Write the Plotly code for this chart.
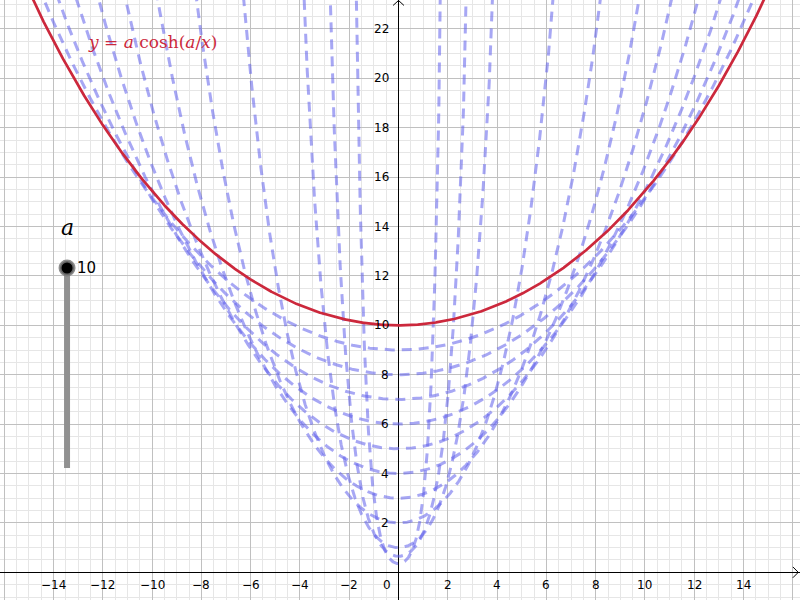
import numpy as np
import plotly.graph_objects as go

# parameter values of the dashed family y = a*cosh(x/a)
a_family = [0.35, 0.65, 1, 2, 3, 4, 5, 6, 7, 8, 9]
a_slider = 10
x_ticks = [-14, -12, -10, -8, -6, -4, -2, 2, 4, 6, 8, 10, 12, 14]
y_ticks = [2, 4, 6, 8, 10, 12, 14, 16, 18, 20, 22]
slider_min, slider_max = 0, 10

X0, X1 = -16.17, 16.29
Y0, Y1 = -1.12, 23.17

def catenary(a):
    x = np.linspace(-16.5, 16.5, 3000)
    y = a * np.cosh(np.clip(x / a, -60, 60))
    y = np.where(y > 40, np.nan, y)
    return x, y

fig = go.Figure()

# slider track
sx = -13.45
sy_top, sy_bot = 12.32, 4.22
fig.add_trace(go.Scatter(x=[sx, sx], y=[sy_bot, sy_top], mode="lines", hoverinfo="skip",
                         line=dict(color="rgb(145,145,145)", width=6)))

for a in a_family:
    x, y = catenary(a)
    fig.add_trace(go.Scatter(x=x, y=y, mode="lines", hoverinfo="skip",
                             line=dict(color="rgba(95,95,235,0.55)", width=3, dash="10px,7px")))
x, y = catenary(a_slider)
fig.add_trace(go.Scatter(x=x, y=y, mode="lines", hoverinfo="skip",
                         line=dict(color="rgb(204,40,60)", width=2.7)))

knob_y = sy_bot + (sy_top - sy_bot) * (a_slider - slider_min) / (slider_max - slider_min)
fig.add_trace(go.Scatter(x=[sx], y=[knob_y], mode="markers", hoverinfo="skip",
                         marker=dict(size=14, color="black", line=dict(color="rgba(120,120,120,0.85)", width=3))))
fig.add_annotation(x=sx + 0.32, y=knob_y, text=str(a_slider), showarrow=False, xanchor="left",
                   font=dict(family="DejaVu Sans", size=15, color="black"))
fig.add_annotation(x=sx, y=13.95, text="<i>a</i>", showarrow=False,
                   font=dict(family="DejaVu Serif", size=22, color="black"))

# formula label
fig.add_annotation(x=-12.7, y=21.45, text="<i>y</i> = <i>a</i> cosh(<i>a</i>/<i>x</i>)", showarrow=False,
                   xanchor="left", font=dict(family="DejaVu Serif", size=17, color="rgb(204,40,60)"))

# tick labels next to the axes
for t in x_ticks:
    lab = ("\u2212" + str(-t)) if t < 0 else str(t)
    fig.add_annotation(x=t, y=-0.52, text=lab, showarrow=False,
                       font=dict(family="DejaVu Sans", size=12, color="black"))
fig.add_annotation(x=-0.45, y=-0.52, text="0", showarrow=False,
                   font=dict(family="DejaVu Sans", size=12, color="black"))
for t in y_ticks:
    fig.add_annotation(x=-0.3, y=t, text=str(t), showarrow=False, xanchor="right",
                       font=dict(family="DejaVu Sans", size=12, color="black"))

# axis arrows (open chevrons)
fig.add_shape(type="path", xref="x", yref="y",
              path="M -0.22 22.95 L 0 23.15 L 0.22 22.95", line=dict(color="black", width=1))
fig.add_shape(type="path", xref="x", yref="y",
              path="M 16.0 0.22 L 16.22 0 L 16.0 -0.22", line=dict(color="black", width=1))

common = dict(showgrid=True, gridcolor="rgb(192,192,192)", gridwidth=1, dtick=2, tick0=0,
              zeroline=True, zerolinecolor="black", zerolinewidth=1.2,
              showticklabels=False, ticks="", showline=False,
              minor=dict(dtick=0.5, showgrid=True, gridcolor="rgb(230,230,230)", gridwidth=1))
fig.update_xaxes(range=[X0, X1], **common)
fig.update_yaxes(range=[Y0, Y1], **common)
fig.update_layout(width=800, height=600, margin=dict(l=0, r=0, t=0, b=0),
                  plot_bgcolor="white", paper_bgcolor="white", showlegend=False)
fig.write_html("out.html", config={"displayModeBar": False},
               post_script="document.body.style.margin='0';document.body.style.overflow='hidden';")
